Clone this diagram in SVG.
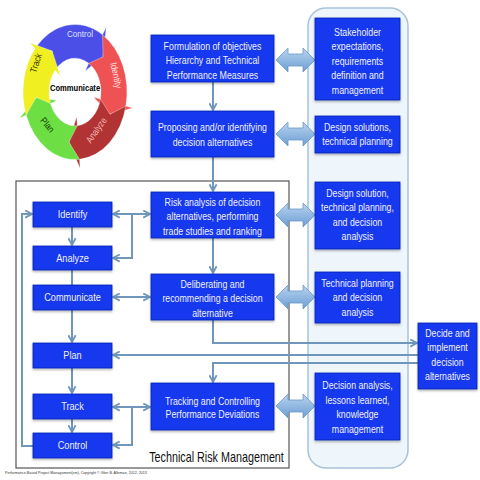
<svg xmlns="http://www.w3.org/2000/svg" width="480" height="480" viewBox="0 0 480 480">
<defs>
<style>
.box{fill:#1637ee;stroke:#0c25b0;stroke-width:0.8;filter:url(#sh)}
.t{font-family:"Liberation Sans",Arial,sans-serif;fill:#eef0ff;text-anchor:middle;font-size:11px}
.tl{font-size:11.5px}
.c{fill:none;stroke:#7096bb;stroke-width:2}
.fat{fill:url(#fg);stroke:#6b98c9;stroke-width:0.8}
.cy{font-family:"Liberation Sans",Arial,sans-serif;font-size:9.5px;text-anchor:middle}
</style>
<filter id="sh" x="-10%" y="-10%" width="120%" height="130%"><feDropShadow dx="0" dy="1.5" stdDeviation="1" flood-color="#000" flood-opacity="0.3"/></filter>
<linearGradient id="fg" x1="0" y1="0" x2="0" y2="1"><stop offset="0" stop-color="#b9d4ef"/><stop offset="1" stop-color="#6c9ed3"/></linearGradient>
<marker id="a" viewBox="0 0 10 10" refX="9" refY="5" markerWidth="9" markerHeight="9" markerUnits="userSpaceOnUse" orient="auto-start-reverse"><path d="M1.5,1 L9,5 L1.5,9" fill="none" stroke="#7096bb" stroke-width="2"/></marker>
<path id="dbl" d="M0,0 L12,-12 L12,-6 L27,-6 L27,-12 L39,0 L27,12 L27,6 L12,6 L12,12 Z"/>
</defs>
<rect width="480" height="480" fill="#fff"/>

<!-- right panel -->
<rect x="308" y="8" width="100" height="460" rx="18" fill="#eef5fb" stroke="#a9c2d9" stroke-width="1.5"/>
<!-- risk frame -->
<rect x="16" y="181" width="273" height="287" fill="none" stroke="#555" stroke-width="1.2"/>
<text x="216.5" y="462" transform="matrix(0.77,0,0,1,49.8,0)" font-family="'Liberation Sans',Arial,sans-serif" font-size="14" text-anchor="middle" fill="#111">Technical Risk Management</text>
<text x="5" y="474" transform="matrix(0.84,0,0,1,0.8,0)" font-family="'Liberation Sans',Arial,sans-serif" font-size="4.3" fill="#333">Performance-Based Project Management(sm), Copyright © Glen B. Alleman, 2012, 2013</text>

<!-- cycle -->
<g id="cycle">
<g transform="translate(75,92) scale(1,1.3)" stroke="#ffffff" stroke-width="0.3">
<path fill="#4b4fe8" d="M-39.83,-33.43 A52,52 0 0 1 27.55,-44.10 L31.26,-50.03 L28.05,-27.09 L10.07,-16.11 L13.78,-22.05 A26,26 0 0 0 -19.92,-16.71 L-22.92,-31.55 Z"/>
<path fill="#ef5252" d="M27.55,-44.10 A52,52 0 0 1 50.86,10.81 L57.71,12.27 L35.05,17.10 L18.58,3.95 L25.43,5.41 A26,26 0 0 0 13.78,-22.05 L28.05,-27.09 Z"/>
<path fill="#b23333" d="M50.86,10.81 A52,52 0 0 1 4.53,51.80 L5.14,58.78 L-6.10,38.52 L1.66,18.93 L2.27,25.90 A26,26 0 0 0 25.43,5.41 L35.05,17.10 Z"/>
<path fill="#6ddf45" d="M4.53,51.80 A52,52 0 0 1 -48.86,17.78 L-55.44,20.18 L-38.79,4.08 L-17.85,6.50 L-24.43,8.89 A26,26 0 0 0 2.27,25.90 L-6.10,38.52 Z"/>
<path fill="#efef22" d="M-48.86,17.78 A52,52 0 0 1 -39.83,-33.43 L-45.19,-37.93 L-22.92,-31.55 L-14.55,-12.21 L-19.92,-16.71 A26,26 0 0 0 -24.43,8.89 L-38.79,4.08 Z"/>
</g>
<text class="cy" transform="translate(80,37) scale(0.85,1)" fill="#dfe0ff">Control</text>
<text class="cy" transform="translate(113,76) rotate(78) scale(0.85,1)" fill="#ffe0e0">Identity</text>
<text class="cy" transform="translate(99,132) rotate(-55) scale(0.85,1)" fill="#f4b8b8">Analyze</text>
<text class="cy" transform="translate(45,127) rotate(50) scale(0.85,1)" fill="#124000">Plan</text>
<text class="cy" transform="translate(39,64) rotate(-72) scale(0.85,1)" fill="#3a3a00">Track</text>
<text class="cy" transform="translate(75,91) scale(0.8,1)" fill="#000" font-weight="bold">Communicate</text>
</g>

<!-- connectors -->
<g id="connectors">
<path class="c" d="M213,82 V110" marker-end="url(#a)"/>
<path class="c" d="M213,157 V191" marker-end="url(#a)"/>
<path class="c" d="M213,238 V273" marker-end="url(#a)"/>
<path class="c" d="M213,320 V343 H417" marker-end="url(#a)"/>
<path class="c" d="M418,355 H113" marker-end="url(#a)"/>
<path class="c" d="M418,363 H213 V382" marker-end="url(#a)"/>
<path class="c" d="M72,227 V245" marker-end="url(#a)"/>
<path class="c" d="M72,270 V285"/>
<path class="c" d="M72,310 V342" marker-end="url(#a)"/>
<path class="c" d="M72,368 V393" marker-end="url(#a)"/>
<path class="c" d="M72,419 V432" marker-end="url(#a)"/>
<path class="c" d="M33,446 H22 V214 H32" marker-end="url(#a)"/>
<path class="c" d="M113,214 H150" marker-start="url(#a)" marker-end="url(#a)"/>
<path class="c" d="M132,214 V258 H113" marker-end="url(#a)"/>
<path class="c" d="M113,297 H150" marker-start="url(#a)" marker-end="url(#a)"/>
<path class="c" d="M113,407 H150" marker-start="url(#a)" marker-end="url(#a)"/>
<path class="c" d="M132,407 V445 H113" marker-end="url(#a)"/>
<use href="#dbl" class="fat" x="276" y="60"/>
<use href="#dbl" class="fat" x="276" y="134"/>
<use href="#dbl" class="fat" x="276" y="215"/>
<use href="#dbl" class="fat" x="276" y="297"/>
<use href="#dbl" class="fat" x="276" y="406"/>
</g>

<!-- center column -->
<g id="formulation"><rect class="box" x="151" y="35" width="123" height="47"/>
<g transform="matrix(0.8,0,0,1,42.5,0)"><text class="t" x="212.5" y="50">Formulation of objectives</text><text class="t" x="212.5" y="64.5">Hierarchy and Technical</text><text class="t" x="212.5" y="79">Performance Measures</text></g></g>
<g id="proposing"><rect class="box" x="151" y="111" width="123" height="46"/>
<g transform="matrix(0.8,0,0,1,42.5,0)"><text class="t" x="212.5" y="131.5">Proposing and/or identifying</text><text class="t" x="212.5" y="146">decision alternatives</text></g></g>
<g id="riskanalysis"><rect class="box" x="151" y="192" width="123" height="46"/>
<g transform="matrix(0.8,0,0,1,42.5,0)"><text class="t" x="212.5" y="206">Risk analysis of decision</text><text class="t" x="212.5" y="220.5">alternatives, performing</text><text class="t" x="212.5" y="235">trade studies and ranking</text></g></g>
<g id="deliberating"><rect class="box" x="151" y="274" width="123" height="46"/>
<g transform="matrix(0.8,0,0,1,42.5,0)"><text class="t" x="212.5" y="288">Deliberating and</text><text class="t" x="212.5" y="302.5">recommending a decision</text><text class="t" x="212.5" y="317">alternative</text></g></g>
<g id="tracking"><rect class="box" x="151" y="383" width="123" height="47"/>
<g transform="matrix(0.8,0,0,1,42.5,0)"><text class="t" x="212.5" y="405">Tracking and Controlling</text><text class="t" x="212.5" y="418.5">Performance Deviations</text></g></g>

<!-- right column -->
<g id="stakeholder"><rect class="box" x="315" y="18" width="85" height="82"/>
<g transform="matrix(0.8,0,0,1,71.5,0)"><text class="t" x="357.5" y="36">Stakeholder</text><text class="t" x="357.5" y="50.5">expectations,</text><text class="t" x="357.5" y="65">requirements</text><text class="t" x="357.5" y="79.5">definition and</text><text class="t" x="357.5" y="94">management</text></g></g>
<g id="design1"><rect class="box" x="315" y="116" width="85" height="37"/>
<g transform="matrix(0.8,0,0,1,71.5,0)"><text class="t" x="357.5" y="131">Design solutions,</text><text class="t" x="357.5" y="145.5">technical planning</text></g></g>
<g id="design2"><rect class="box" x="315" y="182" width="85" height="67"/>
<g transform="matrix(0.8,0,0,1,71.5,0)"><text class="t" x="357.5" y="197">Design solution,</text><text class="t" x="357.5" y="211.5">technical planning,</text><text class="t" x="357.5" y="226">and decision</text><text class="t" x="357.5" y="240.5">analysis</text></g></g>
<g id="techplan"><rect class="box" x="315" y="272" width="85" height="51"/>
<g transform="matrix(0.8,0,0,1,71.5,0)"><text class="t" x="357.5" y="287">Technical planning</text><text class="t" x="357.5" y="301.5">and decision</text><text class="t" x="357.5" y="316">analysis</text></g></g>
<g id="lessons"><rect class="box" x="315" y="373" width="85" height="67"/>
<g transform="matrix(0.8,0,0,1,71.5,0)"><text class="t" x="357.5" y="389.5">Decision analysis,</text><text class="t" x="357.5" y="404">lessons learned,</text><text class="t" x="357.5" y="418.5">knowledge</text><text class="t" x="357.5" y="433">management</text></g></g>
<g id="decide"><rect class="box" x="418" y="323" width="59" height="66"/>
<g transform="matrix(0.8,0,0,1,89.5,0)"><text class="t" x="447.5" y="337">Decide and</text><text class="t" x="447.5" y="351.5">implement</text><text class="t" x="447.5" y="366">decision</text><text class="t" x="447.5" y="380.5">alternatives</text></g></g>

<!-- left column -->
<g id="identify"><rect class="box" x="33" y="202" width="79" height="25"/><text class="t tl" transform="matrix(0.8,0,0,1,14.5,0)" x="72.5" y="218.5">Identify</text></g>
<g id="analyze"><rect class="box" x="33" y="246" width="79" height="24"/><text class="t tl" transform="matrix(0.8,0,0,1,14.5,0)" x="72.5" y="262">Analyze</text></g>
<g id="communicate"><rect class="box" x="33" y="285" width="79" height="25"/><text class="t tl" transform="matrix(0.8,0,0,1,14.5,0)" x="72.5" y="301.5">Communicate</text></g>
<g id="plan"><rect class="box" x="33" y="343" width="79" height="25"/><text class="t tl" transform="matrix(0.8,0,0,1,14.5,0)" x="72.5" y="359.5">Plan</text></g>
<g id="track"><rect class="box" x="33" y="394" width="79" height="25"/><text class="t tl" transform="matrix(0.8,0,0,1,14.5,0)" x="72.5" y="410.5">Track</text></g>
<g id="control"><rect class="box" x="33" y="433" width="79" height="25"/><text class="t tl" transform="matrix(0.8,0,0,1,14.5,0)" x="72.5" y="449.5">Control</text></g>
</svg>
